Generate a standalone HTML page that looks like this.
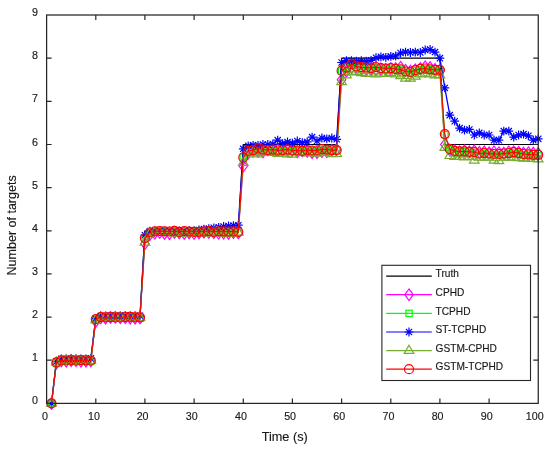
<!DOCTYPE html>
<html><head><meta charset="utf-8"><title>Number of targets</title>
<style>
html,body{margin:0;padding:0;background:#fff;}
svg{display:block;}
text{font-family:"Liberation Sans",sans-serif;fill:#1a1a1a;stroke:#1a1a1a;stroke-width:0.15px;}
.tk{font-size:10.7px;}
.lb{font-size:12.5px;}
.lg{font-size:10.15px;}
</style></head><body>
<svg width="550" height="450" viewBox="0 0 550 450">
<rect x="0" y="0" width="550" height="450" fill="#ffffff"/>
<g>
<polyline points="51.5,403.4 56.4,360.2 61.3,360.2 66.3,360.2 71.2,360.2 76.1,360.2 81.0,360.2 85.9,360.2 90.8,360.2 95.8,317.1 100.7,317.1 105.6,317.1 110.5,317.1 115.4,317.1 120.3,317.1 125.3,317.1 130.2,317.1 135.1,317.1 140.0,317.1 144.9,230.8 149.8,230.8 154.8,230.8 159.7,230.8 164.6,230.8 169.5,230.8 174.4,230.8 179.3,230.8 184.3,230.8 189.2,230.8 194.1,230.8 199.0,230.8 203.9,230.8 208.8,230.8 213.8,230.8 218.7,230.8 223.6,230.8 228.5,230.8 233.4,230.8 238.3,230.8 243.3,144.5 248.2,144.5 253.1,144.5 258.0,144.5 262.9,144.5 267.8,144.5 272.8,144.5 277.7,144.5 282.6,144.5 287.5,144.5 292.4,144.5 297.3,144.5 302.3,144.5 307.2,144.5 312.1,144.5 317.0,144.5 321.9,144.5 326.8,144.5 331.8,144.5 336.7,144.5 341.6,58.2 346.5,58.2 351.4,58.2 356.3,58.2 361.3,58.2 366.2,58.2 371.1,58.2 376.0,58.2 380.9,58.2 385.8,58.2 390.8,58.2 395.7,58.2 400.6,58.2 405.5,58.2 410.4,58.2 415.3,58.2 420.3,58.2 425.2,58.2 430.1,58.2 435.0,58.2 439.9,58.2 444.8,144.5 449.8,144.5 454.7,144.5 459.6,144.5 464.5,144.5 469.4,144.5 474.3,144.5 479.3,144.5 484.2,144.5 489.1,144.5 494.0,144.5 498.9,144.5 503.8,144.5 508.8,144.5 513.7,144.5 518.6,144.5 523.5,144.5 528.4,144.5 533.3,144.5 538.2,144.5" fill="none" stroke="#000000" stroke-width="1.2" stroke-linejoin="round"/>
<polyline points="51.5,403.4 56.4,363.3 61.3,361.0 66.3,361.3 71.2,360.6 76.1,360.8 81.0,361.2 85.9,361.1 90.8,361.0 95.8,321.4 100.7,317.9 105.6,318.1 110.5,317.4 115.4,317.3 120.3,317.8 125.3,317.8 130.2,318.1 135.1,318.1 140.0,317.9 144.9,243.7 149.8,234.7 154.8,233.2 159.7,232.5 164.6,233.4 169.5,233.6 174.4,232.4 179.3,232.9 184.3,233.4 189.2,232.9 194.1,233.5 199.0,232.9 203.9,232.3 208.8,232.5 213.8,232.7 218.7,233.2 223.6,233.1 228.5,233.4 233.4,232.6 238.3,232.9 243.3,166.0 248.2,153.1 253.1,150.0 258.0,151.5 262.9,151.9 267.8,149.9 272.8,149.3 277.7,149.7 282.6,149.9 287.5,149.8 292.4,150.1 297.3,151.9 302.3,150.9 307.2,151.4 312.1,152.6 317.0,152.6 321.9,151.7 326.8,151.8 331.8,150.3 336.7,149.4 341.6,79.7 346.5,71.1 351.4,67.6 356.3,67.2 361.3,68.5 366.2,69.4 371.1,68.9 376.0,69.4 380.9,68.9 385.8,69.4 390.8,68.5 395.7,68.5 400.6,67.2 405.5,70.2 410.4,71.1 415.3,69.8 420.3,68.5 425.2,66.8 430.1,67.6 435.0,69.4 439.9,70.2 444.8,144.5 449.8,150.1 454.7,150.9 459.6,151.8 464.5,150.9 469.4,151.8 474.3,150.9 479.3,152.2 484.2,151.8 489.1,152.7 494.0,151.8 498.9,152.7 503.8,153.1 508.8,151.8 513.7,151.8 518.6,152.2 523.5,153.1 528.4,152.7 533.3,153.1 538.2,153.5" fill="none" stroke="#ff00ff" stroke-width="1.05" stroke-linejoin="round"/>
<path d="M51.5 397.6L55.8 403.4L51.5 409.2L47.3 403.4Z" fill="none" stroke="#ff00ff" stroke-width="1.2"/>
<path d="M56.4 357.5L60.7 363.3L56.4 369.1L52.2 363.3Z" fill="none" stroke="#ff00ff" stroke-width="1.2"/>
<path d="M61.3 355.2L65.6 361.0L61.3 366.8L57.1 361.0Z" fill="none" stroke="#ff00ff" stroke-width="1.2"/>
<path d="M66.3 355.5L70.5 361.3L66.3 367.1L62.0 361.3Z" fill="none" stroke="#ff00ff" stroke-width="1.2"/>
<path d="M71.2 354.8L75.4 360.6L71.2 366.4L66.9 360.6Z" fill="none" stroke="#ff00ff" stroke-width="1.2"/>
<path d="M76.1 355.0L80.3 360.8L76.1 366.6L71.8 360.8Z" fill="none" stroke="#ff00ff" stroke-width="1.2"/>
<path d="M81.0 355.4L85.3 361.2L81.0 367.0L76.8 361.2Z" fill="none" stroke="#ff00ff" stroke-width="1.2"/>
<path d="M85.9 355.3L90.2 361.1L85.9 366.9L81.7 361.1Z" fill="none" stroke="#ff00ff" stroke-width="1.2"/>
<path d="M90.8 355.2L95.1 361.0L90.8 366.8L86.6 361.0Z" fill="none" stroke="#ff00ff" stroke-width="1.2"/>
<path d="M95.8 315.6L100.0 321.4L95.8 327.2L91.5 321.4Z" fill="none" stroke="#ff00ff" stroke-width="1.2"/>
<path d="M100.7 312.1L104.9 317.9L100.7 323.7L96.4 317.9Z" fill="none" stroke="#ff00ff" stroke-width="1.2"/>
<path d="M105.6 312.3L109.8 318.1L105.6 323.9L101.3 318.1Z" fill="none" stroke="#ff00ff" stroke-width="1.2"/>
<path d="M110.5 311.6L114.8 317.4L110.5 323.2L106.3 317.4Z" fill="none" stroke="#ff00ff" stroke-width="1.2"/>
<path d="M115.4 311.5L119.7 317.3L115.4 323.1L111.2 317.3Z" fill="none" stroke="#ff00ff" stroke-width="1.2"/>
<path d="M120.3 312.0L124.6 317.8L120.3 323.6L116.1 317.8Z" fill="none" stroke="#ff00ff" stroke-width="1.2"/>
<path d="M125.3 312.0L129.5 317.8L125.3 323.6L121.0 317.8Z" fill="none" stroke="#ff00ff" stroke-width="1.2"/>
<path d="M130.2 312.3L134.4 318.1L130.2 323.9L125.9 318.1Z" fill="none" stroke="#ff00ff" stroke-width="1.2"/>
<path d="M135.1 312.3L139.3 318.1L135.1 323.9L130.8 318.1Z" fill="none" stroke="#ff00ff" stroke-width="1.2"/>
<path d="M140.0 312.1L144.3 317.9L140.0 323.7L135.8 317.9Z" fill="none" stroke="#ff00ff" stroke-width="1.2"/>
<path d="M144.9 237.9L149.2 243.7L144.9 249.5L140.7 243.7Z" fill="none" stroke="#ff00ff" stroke-width="1.2"/>
<path d="M149.8 228.9L154.1 234.7L149.8 240.5L145.6 234.7Z" fill="none" stroke="#ff00ff" stroke-width="1.2"/>
<path d="M154.8 227.4L159.0 233.2L154.8 239.0L150.5 233.2Z" fill="none" stroke="#ff00ff" stroke-width="1.2"/>
<path d="M159.7 226.7L163.9 232.5L159.7 238.3L155.4 232.5Z" fill="none" stroke="#ff00ff" stroke-width="1.2"/>
<path d="M164.6 227.6L168.8 233.4L164.6 239.2L160.3 233.4Z" fill="none" stroke="#ff00ff" stroke-width="1.2"/>
<path d="M169.5 227.8L173.8 233.6L169.5 239.4L165.3 233.6Z" fill="none" stroke="#ff00ff" stroke-width="1.2"/>
<path d="M174.4 226.6L178.7 232.4L174.4 238.2L170.2 232.4Z" fill="none" stroke="#ff00ff" stroke-width="1.2"/>
<path d="M179.3 227.1L183.6 232.9L179.3 238.7L175.1 232.9Z" fill="none" stroke="#ff00ff" stroke-width="1.2"/>
<path d="M184.3 227.6L188.5 233.4L184.3 239.2L180.0 233.4Z" fill="none" stroke="#ff00ff" stroke-width="1.2"/>
<path d="M189.2 227.1L193.4 232.9L189.2 238.7L184.9 232.9Z" fill="none" stroke="#ff00ff" stroke-width="1.2"/>
<path d="M194.1 227.7L198.3 233.5L194.1 239.3L189.8 233.5Z" fill="none" stroke="#ff00ff" stroke-width="1.2"/>
<path d="M199.0 227.1L203.3 232.9L199.0 238.7L194.8 232.9Z" fill="none" stroke="#ff00ff" stroke-width="1.2"/>
<path d="M203.9 226.5L208.2 232.3L203.9 238.1L199.7 232.3Z" fill="none" stroke="#ff00ff" stroke-width="1.2"/>
<path d="M208.8 226.7L213.1 232.5L208.8 238.3L204.6 232.5Z" fill="none" stroke="#ff00ff" stroke-width="1.2"/>
<path d="M213.8 226.9L218.0 232.7L213.8 238.5L209.5 232.7Z" fill="none" stroke="#ff00ff" stroke-width="1.2"/>
<path d="M218.7 227.4L222.9 233.2L218.7 239.0L214.4 233.2Z" fill="none" stroke="#ff00ff" stroke-width="1.2"/>
<path d="M223.6 227.3L227.8 233.1L223.6 238.9L219.3 233.1Z" fill="none" stroke="#ff00ff" stroke-width="1.2"/>
<path d="M228.5 227.6L232.8 233.4L228.5 239.2L224.3 233.4Z" fill="none" stroke="#ff00ff" stroke-width="1.2"/>
<path d="M233.4 226.8L237.7 232.6L233.4 238.4L229.2 232.6Z" fill="none" stroke="#ff00ff" stroke-width="1.2"/>
<path d="M238.3 227.1L242.6 232.9L238.3 238.7L234.1 232.9Z" fill="none" stroke="#ff00ff" stroke-width="1.2"/>
<path d="M243.3 160.2L247.5 166.0L243.3 171.8L239.0 166.0Z" fill="none" stroke="#ff00ff" stroke-width="1.2"/>
<path d="M248.2 147.3L252.4 153.1L248.2 158.9L243.9 153.1Z" fill="none" stroke="#ff00ff" stroke-width="1.2"/>
<path d="M253.1 144.2L257.3 150.0L253.1 155.8L248.8 150.0Z" fill="none" stroke="#ff00ff" stroke-width="1.2"/>
<path d="M258.0 145.7L262.3 151.5L258.0 157.3L253.8 151.5Z" fill="none" stroke="#ff00ff" stroke-width="1.2"/>
<path d="M262.9 146.1L267.2 151.9L262.9 157.7L258.7 151.9Z" fill="none" stroke="#ff00ff" stroke-width="1.2"/>
<path d="M267.8 144.1L272.1 149.9L267.8 155.7L263.6 149.9Z" fill="none" stroke="#ff00ff" stroke-width="1.2"/>
<path d="M272.8 143.5L277.0 149.3L272.8 155.1L268.5 149.3Z" fill="none" stroke="#ff00ff" stroke-width="1.2"/>
<path d="M277.7 143.9L281.9 149.7L277.7 155.5L273.4 149.7Z" fill="none" stroke="#ff00ff" stroke-width="1.2"/>
<path d="M282.6 144.1L286.8 149.9L282.6 155.7L278.3 149.9Z" fill="none" stroke="#ff00ff" stroke-width="1.2"/>
<path d="M287.5 144.0L291.8 149.8L287.5 155.6L283.3 149.8Z" fill="none" stroke="#ff00ff" stroke-width="1.2"/>
<path d="M292.4 144.3L296.7 150.1L292.4 155.9L288.2 150.1Z" fill="none" stroke="#ff00ff" stroke-width="1.2"/>
<path d="M297.3 146.1L301.6 151.9L297.3 157.7L293.1 151.9Z" fill="none" stroke="#ff00ff" stroke-width="1.2"/>
<path d="M302.3 145.1L306.5 150.9L302.3 156.7L298.0 150.9Z" fill="none" stroke="#ff00ff" stroke-width="1.2"/>
<path d="M307.2 145.6L311.4 151.4L307.2 157.2L302.9 151.4Z" fill="none" stroke="#ff00ff" stroke-width="1.2"/>
<path d="M312.1 146.8L316.3 152.6L312.1 158.4L307.8 152.6Z" fill="none" stroke="#ff00ff" stroke-width="1.2"/>
<path d="M317.0 146.8L321.3 152.6L317.0 158.4L312.8 152.6Z" fill="none" stroke="#ff00ff" stroke-width="1.2"/>
<path d="M321.9 145.9L326.2 151.7L321.9 157.5L317.7 151.7Z" fill="none" stroke="#ff00ff" stroke-width="1.2"/>
<path d="M326.8 146.0L331.1 151.8L326.8 157.6L322.6 151.8Z" fill="none" stroke="#ff00ff" stroke-width="1.2"/>
<path d="M331.8 144.5L336.0 150.3L331.8 156.1L327.5 150.3Z" fill="none" stroke="#ff00ff" stroke-width="1.2"/>
<path d="M336.7 143.6L340.9 149.4L336.7 155.2L332.4 149.4Z" fill="none" stroke="#ff00ff" stroke-width="1.2"/>
<path d="M341.6 73.9L345.8 79.7L341.6 85.5L337.3 79.7Z" fill="none" stroke="#ff00ff" stroke-width="1.2"/>
<path d="M346.5 65.3L350.8 71.1L346.5 76.9L342.3 71.1Z" fill="none" stroke="#ff00ff" stroke-width="1.2"/>
<path d="M351.4 61.8L355.7 67.6L351.4 73.4L347.2 67.6Z" fill="none" stroke="#ff00ff" stroke-width="1.2"/>
<path d="M356.3 61.4L360.6 67.2L356.3 73.0L352.1 67.2Z" fill="none" stroke="#ff00ff" stroke-width="1.2"/>
<path d="M361.3 62.7L365.5 68.5L361.3 74.3L357.0 68.5Z" fill="none" stroke="#ff00ff" stroke-width="1.2"/>
<path d="M366.2 63.6L370.4 69.4L366.2 75.2L361.9 69.4Z" fill="none" stroke="#ff00ff" stroke-width="1.2"/>
<path d="M371.1 63.1L375.3 68.9L371.1 74.7L366.8 68.9Z" fill="none" stroke="#ff00ff" stroke-width="1.2"/>
<path d="M376.0 63.6L380.3 69.4L376.0 75.2L371.8 69.4Z" fill="none" stroke="#ff00ff" stroke-width="1.2"/>
<path d="M380.9 63.1L385.2 68.9L380.9 74.7L376.7 68.9Z" fill="none" stroke="#ff00ff" stroke-width="1.2"/>
<path d="M385.8 63.6L390.1 69.4L385.8 75.2L381.6 69.4Z" fill="none" stroke="#ff00ff" stroke-width="1.2"/>
<path d="M390.8 62.7L395.0 68.5L390.8 74.3L386.5 68.5Z" fill="none" stroke="#ff00ff" stroke-width="1.2"/>
<path d="M395.7 62.7L399.9 68.5L395.7 74.3L391.4 68.5Z" fill="none" stroke="#ff00ff" stroke-width="1.2"/>
<path d="M400.6 61.4L404.8 67.2L400.6 73.0L396.3 67.2Z" fill="none" stroke="#ff00ff" stroke-width="1.2"/>
<path d="M405.5 64.4L409.8 70.2L405.5 76.0L401.3 70.2Z" fill="none" stroke="#ff00ff" stroke-width="1.2"/>
<path d="M410.4 65.3L414.7 71.1L410.4 76.9L406.2 71.1Z" fill="none" stroke="#ff00ff" stroke-width="1.2"/>
<path d="M415.3 64.0L419.6 69.8L415.3 75.6L411.1 69.8Z" fill="none" stroke="#ff00ff" stroke-width="1.2"/>
<path d="M420.3 62.7L424.5 68.5L420.3 74.3L416.0 68.5Z" fill="none" stroke="#ff00ff" stroke-width="1.2"/>
<path d="M425.2 61.0L429.4 66.8L425.2 72.6L420.9 66.8Z" fill="none" stroke="#ff00ff" stroke-width="1.2"/>
<path d="M430.1 61.8L434.3 67.6L430.1 73.4L425.8 67.6Z" fill="none" stroke="#ff00ff" stroke-width="1.2"/>
<path d="M435.0 63.6L439.3 69.4L435.0 75.2L430.8 69.4Z" fill="none" stroke="#ff00ff" stroke-width="1.2"/>
<path d="M439.9 64.4L444.2 70.2L439.9 76.0L435.7 70.2Z" fill="none" stroke="#ff00ff" stroke-width="1.2"/>
<path d="M444.8 138.7L449.1 144.5L444.8 150.3L440.6 144.5Z" fill="none" stroke="#ff00ff" stroke-width="1.2"/>
<path d="M449.8 144.3L454.0 150.1L449.8 155.9L445.5 150.1Z" fill="none" stroke="#ff00ff" stroke-width="1.2"/>
<path d="M454.7 145.1L458.9 150.9L454.7 156.7L450.4 150.9Z" fill="none" stroke="#ff00ff" stroke-width="1.2"/>
<path d="M459.6 146.0L463.8 151.8L459.6 157.6L455.3 151.8Z" fill="none" stroke="#ff00ff" stroke-width="1.2"/>
<path d="M464.5 145.1L468.8 150.9L464.5 156.7L460.3 150.9Z" fill="none" stroke="#ff00ff" stroke-width="1.2"/>
<path d="M469.4 146.0L473.7 151.8L469.4 157.6L465.2 151.8Z" fill="none" stroke="#ff00ff" stroke-width="1.2"/>
<path d="M474.3 145.1L478.6 150.9L474.3 156.7L470.1 150.9Z" fill="none" stroke="#ff00ff" stroke-width="1.2"/>
<path d="M479.3 146.4L483.5 152.2L479.3 158.0L475.0 152.2Z" fill="none" stroke="#ff00ff" stroke-width="1.2"/>
<path d="M484.2 146.0L488.4 151.8L484.2 157.6L479.9 151.8Z" fill="none" stroke="#ff00ff" stroke-width="1.2"/>
<path d="M489.1 146.9L493.3 152.7L489.1 158.5L484.8 152.7Z" fill="none" stroke="#ff00ff" stroke-width="1.2"/>
<path d="M494.0 146.0L498.3 151.8L494.0 157.6L489.8 151.8Z" fill="none" stroke="#ff00ff" stroke-width="1.2"/>
<path d="M498.9 146.9L503.2 152.7L498.9 158.5L494.7 152.7Z" fill="none" stroke="#ff00ff" stroke-width="1.2"/>
<path d="M503.8 147.3L508.1 153.1L503.8 158.9L499.6 153.1Z" fill="none" stroke="#ff00ff" stroke-width="1.2"/>
<path d="M508.8 146.0L513.0 151.8L508.8 157.6L504.5 151.8Z" fill="none" stroke="#ff00ff" stroke-width="1.2"/>
<path d="M513.7 146.0L517.9 151.8L513.7 157.6L509.4 151.8Z" fill="none" stroke="#ff00ff" stroke-width="1.2"/>
<path d="M518.6 146.4L522.8 152.2L518.6 158.0L514.3 152.2Z" fill="none" stroke="#ff00ff" stroke-width="1.2"/>
<path d="M523.5 147.3L527.8 153.1L523.5 158.9L519.3 153.1Z" fill="none" stroke="#ff00ff" stroke-width="1.2"/>
<path d="M528.4 146.9L532.7 152.7L528.4 158.5L524.2 152.7Z" fill="none" stroke="#ff00ff" stroke-width="1.2"/>
<path d="M533.3 147.3L537.6 153.1L533.3 158.9L529.1 153.1Z" fill="none" stroke="#ff00ff" stroke-width="1.2"/>
<path d="M538.2 147.7L542.5 153.5L538.2 159.3L534.0 153.5Z" fill="none" stroke="#ff00ff" stroke-width="1.2"/>
<polyline points="51.5,403.4 56.4,363.4 61.3,361.3 66.3,361.0 71.2,360.9 76.1,361.3 81.0,360.8 85.9,361.0 90.8,361.4 95.8,319.6 100.7,317.6 105.6,318.3 110.5,317.7 115.4,318.0 120.3,317.7 125.3,317.6 130.2,317.7 135.1,317.6 140.0,318.3 144.9,238.8 149.8,232.9 154.8,232.2 159.7,231.6 164.6,232.4 169.5,232.0 174.4,231.4 179.3,232.5 184.3,231.4 189.2,232.5 194.1,232.3 199.0,232.4 203.9,232.2 208.8,231.8 213.8,232.1 218.7,231.6 223.6,232.0 228.5,232.1 233.4,232.4 238.3,232.4 243.3,157.9 248.2,151.2 253.1,150.4 258.0,149.2 262.9,150.4 267.8,150.6 272.8,150.7 277.7,151.2 282.6,151.0 287.5,150.6 292.4,151.5 297.3,150.9 302.3,151.9 307.2,150.9 312.1,151.2 317.0,150.8 321.9,150.2 326.8,150.3 331.8,150.7 336.7,150.4 341.6,71.0 346.5,68.0 351.4,65.0 356.3,67.1 361.3,68.0 366.2,68.0 371.1,68.3 376.0,68.2 380.9,69.0 385.8,69.4 390.8,69.0 395.7,69.6 400.6,69.9 405.5,72.4 410.4,73.0 415.3,71.0 420.3,69.7 425.2,69.1 430.1,69.6 435.0,70.3 439.9,70.4 444.8,134.7 449.8,149.7 454.7,152.0 459.6,151.7 464.5,151.8 469.4,152.1 474.3,152.6 479.3,154.3 484.2,153.8 489.1,154.5 494.0,154.5 498.9,155.0 503.8,154.6 508.8,154.0 513.7,153.2 518.6,153.9 523.5,155.0 528.4,155.5 533.3,155.8 538.2,155.8" fill="none" stroke="#00ff00" stroke-width="1.05" stroke-linejoin="round"/>
<rect x="48.4" y="400.2" width="6.3" height="6.3" fill="none" stroke="#00ff00" stroke-width="1.2"/>
<rect x="53.3" y="360.3" width="6.3" height="6.3" fill="none" stroke="#00ff00" stroke-width="1.2"/>
<rect x="58.2" y="358.1" width="6.3" height="6.3" fill="none" stroke="#00ff00" stroke-width="1.2"/>
<rect x="63.1" y="357.8" width="6.3" height="6.3" fill="none" stroke="#00ff00" stroke-width="1.2"/>
<rect x="68.0" y="357.7" width="6.3" height="6.3" fill="none" stroke="#00ff00" stroke-width="1.2"/>
<rect x="72.9" y="358.2" width="6.3" height="6.3" fill="none" stroke="#00ff00" stroke-width="1.2"/>
<rect x="77.9" y="357.6" width="6.3" height="6.3" fill="none" stroke="#00ff00" stroke-width="1.2"/>
<rect x="82.8" y="357.9" width="6.3" height="6.3" fill="none" stroke="#00ff00" stroke-width="1.2"/>
<rect x="87.7" y="358.2" width="6.3" height="6.3" fill="none" stroke="#00ff00" stroke-width="1.2"/>
<rect x="92.6" y="316.5" width="6.3" height="6.3" fill="none" stroke="#00ff00" stroke-width="1.2"/>
<rect x="97.5" y="314.4" width="6.3" height="6.3" fill="none" stroke="#00ff00" stroke-width="1.2"/>
<rect x="102.4" y="315.1" width="6.3" height="6.3" fill="none" stroke="#00ff00" stroke-width="1.2"/>
<rect x="107.4" y="314.6" width="6.3" height="6.3" fill="none" stroke="#00ff00" stroke-width="1.2"/>
<rect x="112.3" y="314.9" width="6.3" height="6.3" fill="none" stroke="#00ff00" stroke-width="1.2"/>
<rect x="117.2" y="314.5" width="6.3" height="6.3" fill="none" stroke="#00ff00" stroke-width="1.2"/>
<rect x="122.1" y="314.4" width="6.3" height="6.3" fill="none" stroke="#00ff00" stroke-width="1.2"/>
<rect x="127.0" y="314.5" width="6.3" height="6.3" fill="none" stroke="#00ff00" stroke-width="1.2"/>
<rect x="131.9" y="314.4" width="6.3" height="6.3" fill="none" stroke="#00ff00" stroke-width="1.2"/>
<rect x="136.9" y="315.1" width="6.3" height="6.3" fill="none" stroke="#00ff00" stroke-width="1.2"/>
<rect x="141.8" y="235.7" width="6.3" height="6.3" fill="none" stroke="#00ff00" stroke-width="1.2"/>
<rect x="146.7" y="229.8" width="6.3" height="6.3" fill="none" stroke="#00ff00" stroke-width="1.2"/>
<rect x="151.6" y="229.1" width="6.3" height="6.3" fill="none" stroke="#00ff00" stroke-width="1.2"/>
<rect x="156.5" y="228.5" width="6.3" height="6.3" fill="none" stroke="#00ff00" stroke-width="1.2"/>
<rect x="161.4" y="229.2" width="6.3" height="6.3" fill="none" stroke="#00ff00" stroke-width="1.2"/>
<rect x="166.4" y="228.9" width="6.3" height="6.3" fill="none" stroke="#00ff00" stroke-width="1.2"/>
<rect x="171.3" y="228.2" width="6.3" height="6.3" fill="none" stroke="#00ff00" stroke-width="1.2"/>
<rect x="176.2" y="229.3" width="6.3" height="6.3" fill="none" stroke="#00ff00" stroke-width="1.2"/>
<rect x="181.1" y="228.2" width="6.3" height="6.3" fill="none" stroke="#00ff00" stroke-width="1.2"/>
<rect x="186.0" y="229.3" width="6.3" height="6.3" fill="none" stroke="#00ff00" stroke-width="1.2"/>
<rect x="190.9" y="229.1" width="6.3" height="6.3" fill="none" stroke="#00ff00" stroke-width="1.2"/>
<rect x="195.9" y="229.2" width="6.3" height="6.3" fill="none" stroke="#00ff00" stroke-width="1.2"/>
<rect x="200.8" y="229.1" width="6.3" height="6.3" fill="none" stroke="#00ff00" stroke-width="1.2"/>
<rect x="205.7" y="228.6" width="6.3" height="6.3" fill="none" stroke="#00ff00" stroke-width="1.2"/>
<rect x="210.6" y="229.0" width="6.3" height="6.3" fill="none" stroke="#00ff00" stroke-width="1.2"/>
<rect x="215.5" y="228.5" width="6.3" height="6.3" fill="none" stroke="#00ff00" stroke-width="1.2"/>
<rect x="220.4" y="228.8" width="6.3" height="6.3" fill="none" stroke="#00ff00" stroke-width="1.2"/>
<rect x="225.4" y="228.9" width="6.3" height="6.3" fill="none" stroke="#00ff00" stroke-width="1.2"/>
<rect x="230.3" y="229.3" width="6.3" height="6.3" fill="none" stroke="#00ff00" stroke-width="1.2"/>
<rect x="235.2" y="229.2" width="6.3" height="6.3" fill="none" stroke="#00ff00" stroke-width="1.2"/>
<rect x="240.1" y="154.8" width="6.3" height="6.3" fill="none" stroke="#00ff00" stroke-width="1.2"/>
<rect x="245.0" y="148.0" width="6.3" height="6.3" fill="none" stroke="#00ff00" stroke-width="1.2"/>
<rect x="249.9" y="147.3" width="6.3" height="6.3" fill="none" stroke="#00ff00" stroke-width="1.2"/>
<rect x="254.9" y="146.0" width="6.3" height="6.3" fill="none" stroke="#00ff00" stroke-width="1.2"/>
<rect x="259.8" y="147.2" width="6.3" height="6.3" fill="none" stroke="#00ff00" stroke-width="1.2"/>
<rect x="264.7" y="147.4" width="6.3" height="6.3" fill="none" stroke="#00ff00" stroke-width="1.2"/>
<rect x="269.6" y="147.6" width="6.3" height="6.3" fill="none" stroke="#00ff00" stroke-width="1.2"/>
<rect x="274.5" y="148.0" width="6.3" height="6.3" fill="none" stroke="#00ff00" stroke-width="1.2"/>
<rect x="279.4" y="147.9" width="6.3" height="6.3" fill="none" stroke="#00ff00" stroke-width="1.2"/>
<rect x="284.4" y="147.5" width="6.3" height="6.3" fill="none" stroke="#00ff00" stroke-width="1.2"/>
<rect x="289.3" y="148.4" width="6.3" height="6.3" fill="none" stroke="#00ff00" stroke-width="1.2"/>
<rect x="294.2" y="147.8" width="6.3" height="6.3" fill="none" stroke="#00ff00" stroke-width="1.2"/>
<rect x="299.1" y="148.8" width="6.3" height="6.3" fill="none" stroke="#00ff00" stroke-width="1.2"/>
<rect x="304.0" y="147.8" width="6.3" height="6.3" fill="none" stroke="#00ff00" stroke-width="1.2"/>
<rect x="308.9" y="148.1" width="6.3" height="6.3" fill="none" stroke="#00ff00" stroke-width="1.2"/>
<rect x="313.9" y="147.7" width="6.3" height="6.3" fill="none" stroke="#00ff00" stroke-width="1.2"/>
<rect x="318.8" y="147.1" width="6.3" height="6.3" fill="none" stroke="#00ff00" stroke-width="1.2"/>
<rect x="323.7" y="147.2" width="6.3" height="6.3" fill="none" stroke="#00ff00" stroke-width="1.2"/>
<rect x="328.6" y="147.5" width="6.3" height="6.3" fill="none" stroke="#00ff00" stroke-width="1.2"/>
<rect x="333.5" y="147.2" width="6.3" height="6.3" fill="none" stroke="#00ff00" stroke-width="1.2"/>
<rect x="338.4" y="67.9" width="6.3" height="6.3" fill="none" stroke="#00ff00" stroke-width="1.2"/>
<rect x="343.4" y="64.8" width="6.3" height="6.3" fill="none" stroke="#00ff00" stroke-width="1.2"/>
<rect x="348.3" y="61.9" width="6.3" height="6.3" fill="none" stroke="#00ff00" stroke-width="1.2"/>
<rect x="353.2" y="63.9" width="6.3" height="6.3" fill="none" stroke="#00ff00" stroke-width="1.2"/>
<rect x="358.1" y="64.8" width="6.3" height="6.3" fill="none" stroke="#00ff00" stroke-width="1.2"/>
<rect x="363.0" y="64.8" width="6.3" height="6.3" fill="none" stroke="#00ff00" stroke-width="1.2"/>
<rect x="367.9" y="65.2" width="6.3" height="6.3" fill="none" stroke="#00ff00" stroke-width="1.2"/>
<rect x="372.9" y="65.0" width="6.3" height="6.3" fill="none" stroke="#00ff00" stroke-width="1.2"/>
<rect x="377.8" y="65.9" width="6.3" height="6.3" fill="none" stroke="#00ff00" stroke-width="1.2"/>
<rect x="382.7" y="66.2" width="6.3" height="6.3" fill="none" stroke="#00ff00" stroke-width="1.2"/>
<rect x="387.6" y="65.8" width="6.3" height="6.3" fill="none" stroke="#00ff00" stroke-width="1.2"/>
<rect x="392.5" y="66.5" width="6.3" height="6.3" fill="none" stroke="#00ff00" stroke-width="1.2"/>
<rect x="397.4" y="66.8" width="6.3" height="6.3" fill="none" stroke="#00ff00" stroke-width="1.2"/>
<rect x="402.4" y="69.2" width="6.3" height="6.3" fill="none" stroke="#00ff00" stroke-width="1.2"/>
<rect x="407.3" y="69.9" width="6.3" height="6.3" fill="none" stroke="#00ff00" stroke-width="1.2"/>
<rect x="412.2" y="67.8" width="6.3" height="6.3" fill="none" stroke="#00ff00" stroke-width="1.2"/>
<rect x="417.1" y="66.6" width="6.3" height="6.3" fill="none" stroke="#00ff00" stroke-width="1.2"/>
<rect x="422.0" y="66.0" width="6.3" height="6.3" fill="none" stroke="#00ff00" stroke-width="1.2"/>
<rect x="426.9" y="66.5" width="6.3" height="6.3" fill="none" stroke="#00ff00" stroke-width="1.2"/>
<rect x="431.9" y="67.1" width="6.3" height="6.3" fill="none" stroke="#00ff00" stroke-width="1.2"/>
<rect x="436.8" y="67.3" width="6.3" height="6.3" fill="none" stroke="#00ff00" stroke-width="1.2"/>
<rect x="441.7" y="131.5" width="6.3" height="6.3" fill="none" stroke="#00ff00" stroke-width="1.2"/>
<rect x="446.6" y="146.6" width="6.3" height="6.3" fill="none" stroke="#00ff00" stroke-width="1.2"/>
<rect x="451.5" y="148.8" width="6.3" height="6.3" fill="none" stroke="#00ff00" stroke-width="1.2"/>
<rect x="456.4" y="148.5" width="6.3" height="6.3" fill="none" stroke="#00ff00" stroke-width="1.2"/>
<rect x="461.4" y="148.6" width="6.3" height="6.3" fill="none" stroke="#00ff00" stroke-width="1.2"/>
<rect x="466.3" y="149.0" width="6.3" height="6.3" fill="none" stroke="#00ff00" stroke-width="1.2"/>
<rect x="471.2" y="149.5" width="6.3" height="6.3" fill="none" stroke="#00ff00" stroke-width="1.2"/>
<rect x="476.1" y="151.1" width="6.3" height="6.3" fill="none" stroke="#00ff00" stroke-width="1.2"/>
<rect x="481.0" y="150.7" width="6.3" height="6.3" fill="none" stroke="#00ff00" stroke-width="1.2"/>
<rect x="485.9" y="151.4" width="6.3" height="6.3" fill="none" stroke="#00ff00" stroke-width="1.2"/>
<rect x="490.9" y="151.3" width="6.3" height="6.3" fill="none" stroke="#00ff00" stroke-width="1.2"/>
<rect x="495.8" y="151.8" width="6.3" height="6.3" fill="none" stroke="#00ff00" stroke-width="1.2"/>
<rect x="500.7" y="151.4" width="6.3" height="6.3" fill="none" stroke="#00ff00" stroke-width="1.2"/>
<rect x="505.6" y="150.8" width="6.3" height="6.3" fill="none" stroke="#00ff00" stroke-width="1.2"/>
<rect x="510.5" y="150.0" width="6.3" height="6.3" fill="none" stroke="#00ff00" stroke-width="1.2"/>
<rect x="515.4" y="150.7" width="6.3" height="6.3" fill="none" stroke="#00ff00" stroke-width="1.2"/>
<rect x="520.4" y="151.8" width="6.3" height="6.3" fill="none" stroke="#00ff00" stroke-width="1.2"/>
<rect x="525.3" y="152.3" width="6.3" height="6.3" fill="none" stroke="#00ff00" stroke-width="1.2"/>
<rect x="530.2" y="152.6" width="6.3" height="6.3" fill="none" stroke="#00ff00" stroke-width="1.2"/>
<rect x="535.1" y="152.7" width="6.3" height="6.3" fill="none" stroke="#00ff00" stroke-width="1.2"/>
<polyline points="51.5,403.4 56.4,361.5 61.3,358.9 66.3,359.0 71.2,358.7 76.1,358.9 81.0,358.8 85.9,359.1 90.8,358.4 95.8,318.4 100.7,315.9 105.6,315.8 110.5,315.7 115.4,315.4 120.3,315.9 125.3,315.4 130.2,315.8 135.1,315.8 140.0,315.8 144.9,235.1 149.8,231.2 154.8,231.2 159.7,230.8 164.6,231.1 169.5,231.2 174.4,230.5 179.3,231.1 184.3,230.8 189.2,230.6 194.1,230.7 199.0,229.9 203.9,229.1 208.8,228.6 213.8,227.8 218.7,227.3 223.6,226.5 228.5,226.0 233.4,225.6 238.3,225.2 243.3,148.8 248.2,145.8 253.1,145.3 258.0,145.3 262.9,144.5 267.8,144.5 272.8,144.0 277.7,140.2 282.6,143.6 287.5,141.9 292.4,143.2 297.3,141.0 302.3,142.7 307.2,141.9 312.1,137.1 317.0,141.0 321.9,138.0 326.8,138.9 331.8,138.0 336.7,139.3 341.6,62.5 346.5,60.7 351.4,60.7 356.3,61.2 361.3,60.7 366.2,61.2 371.1,60.3 376.0,57.7 380.9,56.9 385.8,57.3 390.8,56.4 395.7,56.0 400.6,53.0 405.5,52.1 410.4,52.5 415.3,52.1 420.3,52.5 425.2,50.0 430.1,49.5 435.0,52.1 439.9,58.2 444.8,87.9 449.8,115.1 454.7,121.2 459.6,128.1 464.5,130.2 469.4,129.4 474.3,135.0 479.3,132.8 484.2,135.0 489.1,135.0 494.0,140.2 498.9,140.2 503.8,131.1 508.8,131.1 513.7,137.1 518.6,135.0 523.5,134.1 528.4,135.8 533.3,140.2 538.2,138.9" fill="none" stroke="#0000ff" stroke-width="1.3" stroke-linejoin="round"/>
<path d="M47.1 403.4H55.9M51.5 399.0V407.8M48.4 400.3L54.6 406.5M48.4 406.5L54.6 400.3" fill="none" stroke="#0000ff" stroke-width="1.2"/>
<path d="M52.0 361.5H60.8M56.4 357.1V365.9M53.3 358.4L59.5 364.7M53.3 364.7L59.5 358.4" fill="none" stroke="#0000ff" stroke-width="1.2"/>
<path d="M56.9 358.9H65.7M61.3 354.5V363.3M58.2 355.8L64.5 362.0M58.2 362.0L64.5 355.8" fill="none" stroke="#0000ff" stroke-width="1.2"/>
<path d="M61.9 359.0H70.7M66.3 354.6V363.4M63.2 355.8L69.4 362.1M63.2 362.1L69.4 355.8" fill="none" stroke="#0000ff" stroke-width="1.2"/>
<path d="M66.8 358.7H75.6M71.2 354.3V363.1M68.1 355.5L74.3 361.8M68.1 361.8L74.3 355.5" fill="none" stroke="#0000ff" stroke-width="1.2"/>
<path d="M71.7 358.9H80.5M76.1 354.5V363.3M73.0 355.8L79.2 362.1M73.0 362.1L79.2 355.8" fill="none" stroke="#0000ff" stroke-width="1.2"/>
<path d="M76.6 358.8H85.4M81.0 354.4V363.2M77.9 355.7L84.1 361.9M77.9 361.9L84.1 355.7" fill="none" stroke="#0000ff" stroke-width="1.2"/>
<path d="M81.5 359.1H90.3M85.9 354.7V363.5M82.8 355.9L89.0 362.2M82.8 362.2L89.0 355.9" fill="none" stroke="#0000ff" stroke-width="1.2"/>
<path d="M86.4 358.4H95.2M90.8 354.0V362.8M87.7 355.3L94.0 361.5M87.7 361.5L94.0 355.3" fill="none" stroke="#0000ff" stroke-width="1.2"/>
<path d="M91.4 318.4H100.2M95.8 314.0V322.8M92.7 315.3L98.9 321.5M92.7 321.5L98.9 315.3" fill="none" stroke="#0000ff" stroke-width="1.2"/>
<path d="M96.3 315.9H105.1M100.7 311.5V320.3M97.6 312.8L103.8 319.0M97.6 319.0L103.8 312.8" fill="none" stroke="#0000ff" stroke-width="1.2"/>
<path d="M101.2 315.8H110.0M105.6 311.4V320.2M102.5 312.7L108.7 318.9M102.5 318.9L108.7 312.7" fill="none" stroke="#0000ff" stroke-width="1.2"/>
<path d="M106.1 315.7H114.9M110.5 311.3V320.1M107.4 312.6L113.6 318.8M107.4 318.8L113.6 312.6" fill="none" stroke="#0000ff" stroke-width="1.2"/>
<path d="M111.0 315.4H119.8M115.4 311.0V319.8M112.3 312.3L118.5 318.6M112.3 318.6L118.5 312.3" fill="none" stroke="#0000ff" stroke-width="1.2"/>
<path d="M115.9 315.9H124.7M120.3 311.5V320.3M117.2 312.8L123.5 319.0M117.2 319.0L123.5 312.8" fill="none" stroke="#0000ff" stroke-width="1.2"/>
<path d="M120.9 315.4H129.7M125.3 311.0V319.8M122.2 312.3L128.4 318.5M122.2 318.5L128.4 312.3" fill="none" stroke="#0000ff" stroke-width="1.2"/>
<path d="M125.8 315.8H134.6M130.2 311.4V320.2M127.1 312.7L133.3 318.9M127.1 318.9L133.3 312.7" fill="none" stroke="#0000ff" stroke-width="1.2"/>
<path d="M130.7 315.8H139.5M135.1 311.4V320.2M132.0 312.7L138.2 318.9M132.0 318.9L138.2 312.7" fill="none" stroke="#0000ff" stroke-width="1.2"/>
<path d="M135.6 315.8H144.4M140.0 311.4V320.2M136.9 312.7L143.1 318.9M136.9 318.9L143.1 312.7" fill="none" stroke="#0000ff" stroke-width="1.2"/>
<path d="M140.5 235.1H149.3M144.9 230.7V239.5M141.8 232.0L148.0 238.2M141.8 238.2L148.0 232.0" fill="none" stroke="#0000ff" stroke-width="1.2"/>
<path d="M145.4 231.2H154.2M149.8 226.8V235.6M146.7 228.1L153.0 234.3M146.7 234.3L153.0 228.1" fill="none" stroke="#0000ff" stroke-width="1.2"/>
<path d="M150.4 231.2H159.2M154.8 226.8V235.6M151.7 228.1L157.9 234.3M151.7 234.3L157.9 228.1" fill="none" stroke="#0000ff" stroke-width="1.2"/>
<path d="M155.3 230.8H164.1M159.7 226.4V235.2M156.6 227.7L162.8 233.9M156.6 233.9L162.8 227.7" fill="none" stroke="#0000ff" stroke-width="1.2"/>
<path d="M160.2 231.1H169.0M164.6 226.7V235.5M161.5 227.9L167.7 234.2M161.5 234.2L167.7 227.9" fill="none" stroke="#0000ff" stroke-width="1.2"/>
<path d="M165.1 231.2H173.9M169.5 226.8V235.6M166.4 228.1L172.6 234.3M166.4 234.3L172.6 228.1" fill="none" stroke="#0000ff" stroke-width="1.2"/>
<path d="M170.0 230.5H178.8M174.4 226.1V234.9M171.3 227.4L177.5 233.6M171.3 233.6L177.5 227.4" fill="none" stroke="#0000ff" stroke-width="1.2"/>
<path d="M174.9 231.1H183.7M179.3 226.7V235.5M176.2 227.9L182.5 234.2M176.2 234.2L182.5 227.9" fill="none" stroke="#0000ff" stroke-width="1.2"/>
<path d="M179.9 230.8H188.7M184.3 226.4V235.2M181.2 227.7L187.4 233.9M181.2 233.9L187.4 227.7" fill="none" stroke="#0000ff" stroke-width="1.2"/>
<path d="M184.8 230.6H193.6M189.2 226.2V235.0M186.1 227.5L192.3 233.7M186.1 233.7L192.3 227.5" fill="none" stroke="#0000ff" stroke-width="1.2"/>
<path d="M189.7 230.7H198.5M194.1 226.3V235.1M191.0 227.6L197.2 233.8M191.0 233.8L197.2 227.6" fill="none" stroke="#0000ff" stroke-width="1.2"/>
<path d="M194.6 229.9H203.4M199.0 225.5V234.3M195.9 226.8L202.1 233.0M195.9 233.0L202.1 226.8" fill="none" stroke="#0000ff" stroke-width="1.2"/>
<path d="M199.5 229.1H208.3M203.9 224.7V233.5M200.8 225.9L207.0 232.2M200.8 232.2L207.0 225.9" fill="none" stroke="#0000ff" stroke-width="1.2"/>
<path d="M204.4 228.6H213.2M208.8 224.2V233.0M205.7 225.5L212.0 231.7M205.7 231.7L212.0 225.5" fill="none" stroke="#0000ff" stroke-width="1.2"/>
<path d="M209.4 227.8H218.2M213.8 223.4V232.2M210.6 224.6L216.9 230.9M210.6 230.9L216.9 224.6" fill="none" stroke="#0000ff" stroke-width="1.2"/>
<path d="M214.3 227.3H223.1M218.7 222.9V231.7M215.6 224.2L221.8 230.4M215.6 230.4L221.8 224.2" fill="none" stroke="#0000ff" stroke-width="1.2"/>
<path d="M219.2 226.5H228.0M223.6 222.1V230.9M220.5 223.4L226.7 229.6M220.5 229.6L226.7 223.4" fill="none" stroke="#0000ff" stroke-width="1.2"/>
<path d="M224.1 226.0H232.9M228.5 221.6V230.4M225.4 222.9L231.6 229.1M225.4 229.1L231.6 222.9" fill="none" stroke="#0000ff" stroke-width="1.2"/>
<path d="M229.0 225.6H237.8M233.4 221.2V230.0M230.3 222.5L236.5 228.7M230.3 228.7L236.5 222.5" fill="none" stroke="#0000ff" stroke-width="1.2"/>
<path d="M233.9 225.2H242.7M238.3 220.8V229.6M235.2 222.1L241.5 228.3M235.2 228.3L241.5 222.1" fill="none" stroke="#0000ff" stroke-width="1.2"/>
<path d="M238.9 148.8H247.7M243.3 144.4V153.2M240.1 145.7L246.4 151.9M240.1 151.9L246.4 145.7" fill="none" stroke="#0000ff" stroke-width="1.2"/>
<path d="M243.8 145.8H252.6M248.2 141.4V150.2M245.1 142.7L251.3 148.9M245.1 148.9L251.3 142.7" fill="none" stroke="#0000ff" stroke-width="1.2"/>
<path d="M248.7 145.3H257.5M253.1 140.9V149.7M250.0 142.2L256.2 148.4M250.0 148.4L256.2 142.2" fill="none" stroke="#0000ff" stroke-width="1.2"/>
<path d="M253.6 145.3H262.4M258.0 140.9V149.7M254.9 142.2L261.1 148.4M254.9 148.4L261.1 142.2" fill="none" stroke="#0000ff" stroke-width="1.2"/>
<path d="M258.5 144.5H267.3M262.9 140.1V148.9M259.8 141.4L266.0 147.6M259.8 147.6L266.0 141.4" fill="none" stroke="#0000ff" stroke-width="1.2"/>
<path d="M263.4 144.5H272.2M267.8 140.1V148.9M264.7 141.4L271.0 147.6M264.7 147.6L271.0 141.4" fill="none" stroke="#0000ff" stroke-width="1.2"/>
<path d="M268.4 144.0H277.2M272.8 139.6V148.4M269.6 140.9L275.9 147.1M269.6 147.1L275.9 140.9" fill="none" stroke="#0000ff" stroke-width="1.2"/>
<path d="M273.3 140.2H282.1M277.7 135.8V144.6M274.6 137.0L280.8 143.3M274.6 143.3L280.8 137.0" fill="none" stroke="#0000ff" stroke-width="1.2"/>
<path d="M278.2 143.6H287.0M282.6 139.2V148.0M279.5 140.5L285.7 146.7M279.5 146.7L285.7 140.5" fill="none" stroke="#0000ff" stroke-width="1.2"/>
<path d="M283.1 141.9H291.9M287.5 137.5V146.3M284.4 138.8L290.6 145.0M284.4 145.0L290.6 138.8" fill="none" stroke="#0000ff" stroke-width="1.2"/>
<path d="M288.0 143.2H296.8M292.4 138.8V147.6M289.3 140.1L295.5 146.3M289.3 146.3L295.5 140.1" fill="none" stroke="#0000ff" stroke-width="1.2"/>
<path d="M292.9 141.0H301.7M297.3 136.6V145.4M294.2 137.9L300.5 144.1M294.2 144.1L300.5 137.9" fill="none" stroke="#0000ff" stroke-width="1.2"/>
<path d="M297.9 142.7H306.7M302.3 138.3V147.1M299.1 139.6L305.4 145.9M299.1 145.9L305.4 139.6" fill="none" stroke="#0000ff" stroke-width="1.2"/>
<path d="M302.8 141.9H311.6M307.2 137.5V146.3M304.1 138.8L310.3 145.0M304.1 145.0L310.3 138.8" fill="none" stroke="#0000ff" stroke-width="1.2"/>
<path d="M307.7 137.1H316.5M312.1 132.7V141.5M309.0 134.0L315.2 140.2M309.0 140.2L315.2 134.0" fill="none" stroke="#0000ff" stroke-width="1.2"/>
<path d="M312.6 141.0H321.4M317.0 136.6V145.4M313.9 137.9L320.1 144.1M313.9 144.1L320.1 137.9" fill="none" stroke="#0000ff" stroke-width="1.2"/>
<path d="M317.5 138.0H326.3M321.9 133.6V142.4M318.8 134.9L325.0 141.1M318.8 141.1L325.0 134.9" fill="none" stroke="#0000ff" stroke-width="1.2"/>
<path d="M322.4 138.9H331.2M326.8 134.5V143.3M323.7 135.7L330.0 142.0M323.7 142.0L330.0 135.7" fill="none" stroke="#0000ff" stroke-width="1.2"/>
<path d="M327.4 138.0H336.2M331.8 133.6V142.4M328.6 134.9L334.9 141.1M328.6 141.1L334.9 134.9" fill="none" stroke="#0000ff" stroke-width="1.2"/>
<path d="M332.3 139.3H341.1M336.7 134.9V143.7M333.6 136.2L339.8 142.4M333.6 142.4L339.8 136.2" fill="none" stroke="#0000ff" stroke-width="1.2"/>
<path d="M337.2 62.5H346.0M341.6 58.1V66.9M338.5 59.4L344.7 65.6M338.5 65.6L344.7 59.4" fill="none" stroke="#0000ff" stroke-width="1.2"/>
<path d="M342.1 60.7H350.9M346.5 56.3V65.1M343.4 57.6L349.6 63.9M343.4 63.9L349.6 57.6" fill="none" stroke="#0000ff" stroke-width="1.2"/>
<path d="M347.0 60.7H355.8M351.4 56.3V65.1M348.3 57.6L354.5 63.9M348.3 63.9L354.5 57.6" fill="none" stroke="#0000ff" stroke-width="1.2"/>
<path d="M351.9 61.2H360.7M356.3 56.8V65.6M353.2 58.1L359.5 64.3M353.2 64.3L359.5 58.1" fill="none" stroke="#0000ff" stroke-width="1.2"/>
<path d="M356.9 60.7H365.7M361.3 56.3V65.1M358.1 57.6L364.4 63.9M358.1 63.9L364.4 57.6" fill="none" stroke="#0000ff" stroke-width="1.2"/>
<path d="M361.8 61.2H370.6M366.2 56.8V65.6M363.1 58.1L369.3 64.3M363.1 64.3L369.3 58.1" fill="none" stroke="#0000ff" stroke-width="1.2"/>
<path d="M366.7 60.3H375.5M371.1 55.9V64.7M368.0 57.2L374.2 63.4M368.0 63.4L374.2 57.2" fill="none" stroke="#0000ff" stroke-width="1.2"/>
<path d="M371.6 57.7H380.4M376.0 53.3V62.1M372.9 54.6L379.1 60.8M372.9 60.8L379.1 54.6" fill="none" stroke="#0000ff" stroke-width="1.2"/>
<path d="M376.5 56.9H385.3M380.9 52.5V61.3M377.8 53.7L384.0 60.0M377.8 60.0L384.0 53.7" fill="none" stroke="#0000ff" stroke-width="1.2"/>
<path d="M381.4 57.3H390.2M385.8 52.9V61.7M382.7 54.2L388.9 60.4M382.7 60.4L388.9 54.2" fill="none" stroke="#0000ff" stroke-width="1.2"/>
<path d="M386.4 56.4H395.2M390.8 52.0V60.8M387.6 53.3L393.9 59.5M387.6 59.5L393.9 53.3" fill="none" stroke="#0000ff" stroke-width="1.2"/>
<path d="M391.3 56.0H400.1M395.7 51.6V60.4M392.6 52.9L398.8 59.1M392.6 59.1L398.8 52.9" fill="none" stroke="#0000ff" stroke-width="1.2"/>
<path d="M396.2 53.0H405.0M400.6 48.6V57.4M397.5 49.9L403.7 56.1M397.5 56.1L403.7 49.9" fill="none" stroke="#0000ff" stroke-width="1.2"/>
<path d="M401.1 52.1H409.9M405.5 47.7V56.5M402.4 49.0L408.6 55.2M402.4 55.2L408.6 49.0" fill="none" stroke="#0000ff" stroke-width="1.2"/>
<path d="M406.0 52.5H414.8M410.4 48.1V56.9M407.3 49.4L413.5 55.7M407.3 55.7L413.5 49.4" fill="none" stroke="#0000ff" stroke-width="1.2"/>
<path d="M410.9 52.1H419.7M415.3 47.7V56.5M412.2 49.0L418.4 55.2M412.2 55.2L418.4 49.0" fill="none" stroke="#0000ff" stroke-width="1.2"/>
<path d="M415.9 52.5H424.7M420.3 48.1V56.9M417.1 49.4L423.4 55.7M417.1 55.7L423.4 49.4" fill="none" stroke="#0000ff" stroke-width="1.2"/>
<path d="M420.8 50.0H429.6M425.2 45.6V54.4M422.1 46.8L428.3 53.1M422.1 53.1L428.3 46.8" fill="none" stroke="#0000ff" stroke-width="1.2"/>
<path d="M425.7 49.5H434.5M430.1 45.1V53.9M427.0 46.4L433.2 52.6M427.0 52.6L433.2 46.4" fill="none" stroke="#0000ff" stroke-width="1.2"/>
<path d="M430.6 52.1H439.4M435.0 47.7V56.5M431.9 49.0L438.1 55.2M431.9 55.2L438.1 49.0" fill="none" stroke="#0000ff" stroke-width="1.2"/>
<path d="M435.5 58.2H444.3M439.9 53.8V62.6M436.8 55.0L443.0 61.3M436.8 61.3L443.0 55.0" fill="none" stroke="#0000ff" stroke-width="1.2"/>
<path d="M440.4 87.9H449.2M444.8 83.5V92.3M441.7 84.8L447.9 91.0M441.7 91.0L447.9 84.8" fill="none" stroke="#0000ff" stroke-width="1.2"/>
<path d="M445.4 115.1H454.2M449.8 110.7V119.5M446.6 112.0L452.9 118.2M446.6 118.2L452.9 112.0" fill="none" stroke="#0000ff" stroke-width="1.2"/>
<path d="M450.3 121.2H459.1M454.7 116.8V125.6M451.6 118.1L457.8 124.3M451.6 124.3L457.8 118.1" fill="none" stroke="#0000ff" stroke-width="1.2"/>
<path d="M455.2 128.1H464.0M459.6 123.7V132.5M456.5 125.0L462.7 131.2M456.5 131.2L462.7 125.0" fill="none" stroke="#0000ff" stroke-width="1.2"/>
<path d="M460.1 130.2H468.9M464.5 125.8V134.6M461.4 127.1L467.6 133.3M461.4 133.3L467.6 127.1" fill="none" stroke="#0000ff" stroke-width="1.2"/>
<path d="M465.0 129.4H473.8M469.4 125.0V133.8M466.3 126.3L472.5 132.5M466.3 132.5L472.5 126.3" fill="none" stroke="#0000ff" stroke-width="1.2"/>
<path d="M469.9 135.0H478.7M474.3 130.6V139.4M471.2 131.9L477.4 138.1M471.2 138.1L477.4 131.9" fill="none" stroke="#0000ff" stroke-width="1.2"/>
<path d="M474.9 132.8H483.7M479.3 128.4V137.2M476.1 129.7L482.4 135.9M476.1 135.9L482.4 129.7" fill="none" stroke="#0000ff" stroke-width="1.2"/>
<path d="M479.8 135.0H488.6M484.2 130.6V139.4M481.1 131.9L487.3 138.1M481.1 138.1L487.3 131.9" fill="none" stroke="#0000ff" stroke-width="1.2"/>
<path d="M484.7 135.0H493.5M489.1 130.6V139.4M486.0 131.9L492.2 138.1M486.0 138.1L492.2 131.9" fill="none" stroke="#0000ff" stroke-width="1.2"/>
<path d="M489.6 140.2H498.4M494.0 135.8V144.6M490.9 137.0L497.1 143.3M490.9 143.3L497.1 137.0" fill="none" stroke="#0000ff" stroke-width="1.2"/>
<path d="M494.5 140.2H503.3M498.9 135.8V144.6M495.8 137.0L502.0 143.3M495.8 143.3L502.0 137.0" fill="none" stroke="#0000ff" stroke-width="1.2"/>
<path d="M499.4 131.1H508.2M503.8 126.7V135.5M500.7 128.0L506.9 134.2M500.7 134.2L506.9 128.0" fill="none" stroke="#0000ff" stroke-width="1.2"/>
<path d="M504.4 131.1H513.2M508.8 126.7V135.5M505.6 128.0L511.9 134.2M505.6 134.2L511.9 128.0" fill="none" stroke="#0000ff" stroke-width="1.2"/>
<path d="M509.3 137.1H518.1M513.7 132.7V141.5M510.6 134.0L516.8 140.2M510.6 140.2L516.8 134.0" fill="none" stroke="#0000ff" stroke-width="1.2"/>
<path d="M514.2 135.0H523.0M518.6 130.6V139.4M515.5 131.9L521.7 138.1M515.5 138.1L521.7 131.9" fill="none" stroke="#0000ff" stroke-width="1.2"/>
<path d="M519.1 134.1H527.9M523.5 129.7V138.5M520.4 131.0L526.6 137.2M520.4 137.2L526.6 131.0" fill="none" stroke="#0000ff" stroke-width="1.2"/>
<path d="M524.0 135.8H532.8M528.4 131.4V140.2M525.3 132.7L531.5 138.9M525.3 138.9L531.5 132.7" fill="none" stroke="#0000ff" stroke-width="1.2"/>
<path d="M528.9 140.2H537.7M533.3 135.8V144.6M530.2 137.0L536.4 143.3M530.2 143.3L536.4 137.0" fill="none" stroke="#0000ff" stroke-width="1.2"/>
<path d="M533.9 138.9H542.6M538.2 134.5V143.3M535.1 135.7L541.4 142.0M535.1 142.0L541.4 135.7" fill="none" stroke="#0000ff" stroke-width="1.2"/>
<polyline points="51.5,403.4 56.4,362.4 61.3,360.5 66.3,360.2 71.2,360.1 76.1,360.1 81.0,360.6 85.9,360.7 90.8,360.6 95.8,320.1 100.7,317.7 105.6,317.7 110.5,317.4 115.4,317.2 120.3,317.3 125.3,317.5 130.2,317.4 135.1,317.3 140.0,317.8 144.9,242.4 149.8,233.8 154.8,232.7 159.7,232.4 164.6,232.6 169.5,232.6 174.4,233.0 179.3,233.4 184.3,232.6 189.2,233.2 194.1,232.5 199.0,232.3 203.9,233.1 208.8,233.1 213.8,232.4 218.7,232.6 223.6,233.4 228.5,233.4 233.4,233.4 238.3,232.4 243.3,162.6 248.2,154.0 253.1,152.3 258.0,154.0 262.9,152.3 267.8,151.9 272.8,152.7 277.7,153.5 282.6,153.0 287.5,154.1 292.4,154.4 297.3,151.9 302.3,152.7 307.2,153.0 312.1,152.0 317.0,153.3 321.9,152.1 326.8,152.3 331.8,153.8 336.7,153.7 341.6,81.9 346.5,75.0 351.4,72.0 356.3,71.5 361.3,72.8 366.2,73.7 371.1,73.3 376.0,74.1 380.9,73.3 385.8,73.7 390.8,72.8 395.7,74.1 400.6,75.8 405.5,78.4 410.4,78.4 415.3,76.3 420.3,74.1 425.2,73.3 430.1,74.1 435.0,75.0 439.9,75.0 444.8,147.5 449.8,155.7 454.7,156.6 459.6,156.6 464.5,157.0 469.4,156.6 474.3,160.4 479.3,157.4 484.2,157.4 489.1,157.4 494.0,160.4 498.9,160.9 503.8,157.4 508.8,157.4 513.7,157.4 518.6,157.8 523.5,158.3 528.4,158.3 533.3,158.7 538.2,159.1" fill="none" stroke="#77ac30" stroke-width="1.05" stroke-linejoin="round"/>
<path d="M51.5 398.0L56.3 406.2L46.7 406.2Z" fill="none" stroke="#77ac30" stroke-width="1.2"/>
<path d="M56.4 357.0L61.2 365.2L51.6 365.2Z" fill="none" stroke="#77ac30" stroke-width="1.2"/>
<path d="M61.3 355.1L66.1 363.3L56.5 363.3Z" fill="none" stroke="#77ac30" stroke-width="1.2"/>
<path d="M66.3 354.8L71.1 363.0L61.5 363.0Z" fill="none" stroke="#77ac30" stroke-width="1.2"/>
<path d="M71.2 354.7L76.0 362.9L66.4 362.9Z" fill="none" stroke="#77ac30" stroke-width="1.2"/>
<path d="M76.1 354.7L80.9 362.9L71.3 362.9Z" fill="none" stroke="#77ac30" stroke-width="1.2"/>
<path d="M81.0 355.2L85.8 363.4L76.2 363.4Z" fill="none" stroke="#77ac30" stroke-width="1.2"/>
<path d="M85.9 355.3L90.7 363.5L81.1 363.5Z" fill="none" stroke="#77ac30" stroke-width="1.2"/>
<path d="M90.8 355.2L95.6 363.4L86.0 363.4Z" fill="none" stroke="#77ac30" stroke-width="1.2"/>
<path d="M95.8 314.7L100.6 322.9L91.0 322.9Z" fill="none" stroke="#77ac30" stroke-width="1.2"/>
<path d="M100.7 312.3L105.5 320.5L95.9 320.5Z" fill="none" stroke="#77ac30" stroke-width="1.2"/>
<path d="M105.6 312.3L110.4 320.5L100.8 320.5Z" fill="none" stroke="#77ac30" stroke-width="1.2"/>
<path d="M110.5 312.0L115.3 320.2L105.7 320.2Z" fill="none" stroke="#77ac30" stroke-width="1.2"/>
<path d="M115.4 311.8L120.2 320.0L110.6 320.0Z" fill="none" stroke="#77ac30" stroke-width="1.2"/>
<path d="M120.3 311.9L125.1 320.1L115.5 320.1Z" fill="none" stroke="#77ac30" stroke-width="1.2"/>
<path d="M125.3 312.1L130.1 320.3L120.5 320.3Z" fill="none" stroke="#77ac30" stroke-width="1.2"/>
<path d="M130.2 312.0L135.0 320.2L125.4 320.2Z" fill="none" stroke="#77ac30" stroke-width="1.2"/>
<path d="M135.1 311.9L139.9 320.1L130.3 320.1Z" fill="none" stroke="#77ac30" stroke-width="1.2"/>
<path d="M140.0 312.4L144.8 320.6L135.2 320.6Z" fill="none" stroke="#77ac30" stroke-width="1.2"/>
<path d="M144.9 237.0L149.7 245.2L140.1 245.2Z" fill="none" stroke="#77ac30" stroke-width="1.2"/>
<path d="M149.8 228.4L154.6 236.6L145.0 236.6Z" fill="none" stroke="#77ac30" stroke-width="1.2"/>
<path d="M154.8 227.3L159.6 235.5L150.0 235.5Z" fill="none" stroke="#77ac30" stroke-width="1.2"/>
<path d="M159.7 227.0L164.5 235.2L154.9 235.2Z" fill="none" stroke="#77ac30" stroke-width="1.2"/>
<path d="M164.6 227.2L169.4 235.4L159.8 235.4Z" fill="none" stroke="#77ac30" stroke-width="1.2"/>
<path d="M169.5 227.2L174.3 235.4L164.7 235.4Z" fill="none" stroke="#77ac30" stroke-width="1.2"/>
<path d="M174.4 227.6L179.2 235.8L169.6 235.8Z" fill="none" stroke="#77ac30" stroke-width="1.2"/>
<path d="M179.3 228.0L184.1 236.2L174.5 236.2Z" fill="none" stroke="#77ac30" stroke-width="1.2"/>
<path d="M184.3 227.2L189.1 235.4L179.5 235.4Z" fill="none" stroke="#77ac30" stroke-width="1.2"/>
<path d="M189.2 227.8L194.0 236.0L184.4 236.0Z" fill="none" stroke="#77ac30" stroke-width="1.2"/>
<path d="M194.1 227.1L198.9 235.3L189.3 235.3Z" fill="none" stroke="#77ac30" stroke-width="1.2"/>
<path d="M199.0 226.9L203.8 235.1L194.2 235.1Z" fill="none" stroke="#77ac30" stroke-width="1.2"/>
<path d="M203.9 227.7L208.7 235.9L199.1 235.9Z" fill="none" stroke="#77ac30" stroke-width="1.2"/>
<path d="M208.8 227.7L213.6 235.9L204.0 235.9Z" fill="none" stroke="#77ac30" stroke-width="1.2"/>
<path d="M213.8 227.0L218.6 235.2L209.0 235.2Z" fill="none" stroke="#77ac30" stroke-width="1.2"/>
<path d="M218.7 227.2L223.5 235.4L213.9 235.4Z" fill="none" stroke="#77ac30" stroke-width="1.2"/>
<path d="M223.6 228.0L228.4 236.2L218.8 236.2Z" fill="none" stroke="#77ac30" stroke-width="1.2"/>
<path d="M228.5 228.0L233.3 236.2L223.7 236.2Z" fill="none" stroke="#77ac30" stroke-width="1.2"/>
<path d="M233.4 228.0L238.2 236.2L228.6 236.2Z" fill="none" stroke="#77ac30" stroke-width="1.2"/>
<path d="M238.3 227.0L243.1 235.2L233.5 235.2Z" fill="none" stroke="#77ac30" stroke-width="1.2"/>
<path d="M243.3 157.2L248.1 165.4L238.5 165.4Z" fill="none" stroke="#77ac30" stroke-width="1.2"/>
<path d="M248.2 148.6L253.0 156.8L243.4 156.8Z" fill="none" stroke="#77ac30" stroke-width="1.2"/>
<path d="M253.1 146.9L257.9 155.1L248.3 155.1Z" fill="none" stroke="#77ac30" stroke-width="1.2"/>
<path d="M258.0 148.6L262.8 156.8L253.2 156.8Z" fill="none" stroke="#77ac30" stroke-width="1.2"/>
<path d="M262.9 146.9L267.7 155.1L258.1 155.1Z" fill="none" stroke="#77ac30" stroke-width="1.2"/>
<path d="M267.8 146.5L272.6 154.7L263.0 154.7Z" fill="none" stroke="#77ac30" stroke-width="1.2"/>
<path d="M272.8 147.3L277.6 155.5L268.0 155.5Z" fill="none" stroke="#77ac30" stroke-width="1.2"/>
<path d="M277.7 148.1L282.5 156.3L272.9 156.3Z" fill="none" stroke="#77ac30" stroke-width="1.2"/>
<path d="M282.6 147.6L287.4 155.8L277.8 155.8Z" fill="none" stroke="#77ac30" stroke-width="1.2"/>
<path d="M287.5 148.7L292.3 156.9L282.7 156.9Z" fill="none" stroke="#77ac30" stroke-width="1.2"/>
<path d="M292.4 149.0L297.2 157.2L287.6 157.2Z" fill="none" stroke="#77ac30" stroke-width="1.2"/>
<path d="M297.3 146.5L302.1 154.7L292.5 154.7Z" fill="none" stroke="#77ac30" stroke-width="1.2"/>
<path d="M302.3 147.3L307.1 155.5L297.5 155.5Z" fill="none" stroke="#77ac30" stroke-width="1.2"/>
<path d="M307.2 147.6L312.0 155.8L302.4 155.8Z" fill="none" stroke="#77ac30" stroke-width="1.2"/>
<path d="M312.1 146.6L316.9 154.8L307.3 154.8Z" fill="none" stroke="#77ac30" stroke-width="1.2"/>
<path d="M317.0 147.9L321.8 156.1L312.2 156.1Z" fill="none" stroke="#77ac30" stroke-width="1.2"/>
<path d="M321.9 146.7L326.7 154.9L317.1 154.9Z" fill="none" stroke="#77ac30" stroke-width="1.2"/>
<path d="M326.8 146.9L331.6 155.1L322.0 155.1Z" fill="none" stroke="#77ac30" stroke-width="1.2"/>
<path d="M331.8 148.4L336.6 156.6L327.0 156.6Z" fill="none" stroke="#77ac30" stroke-width="1.2"/>
<path d="M336.7 148.3L341.5 156.5L331.9 156.5Z" fill="none" stroke="#77ac30" stroke-width="1.2"/>
<path d="M341.6 76.5L346.4 84.7L336.8 84.7Z" fill="none" stroke="#77ac30" stroke-width="1.2"/>
<path d="M346.5 69.6L351.3 77.8L341.7 77.8Z" fill="none" stroke="#77ac30" stroke-width="1.2"/>
<path d="M351.4 66.6L356.2 74.8L346.6 74.8Z" fill="none" stroke="#77ac30" stroke-width="1.2"/>
<path d="M356.3 66.1L361.1 74.3L351.5 74.3Z" fill="none" stroke="#77ac30" stroke-width="1.2"/>
<path d="M361.3 67.4L366.1 75.6L356.5 75.6Z" fill="none" stroke="#77ac30" stroke-width="1.2"/>
<path d="M366.2 68.3L371.0 76.5L361.4 76.5Z" fill="none" stroke="#77ac30" stroke-width="1.2"/>
<path d="M371.1 67.9L375.9 76.1L366.3 76.1Z" fill="none" stroke="#77ac30" stroke-width="1.2"/>
<path d="M376.0 68.7L380.8 76.9L371.2 76.9Z" fill="none" stroke="#77ac30" stroke-width="1.2"/>
<path d="M380.9 67.9L385.7 76.1L376.1 76.1Z" fill="none" stroke="#77ac30" stroke-width="1.2"/>
<path d="M385.8 68.3L390.6 76.5L381.0 76.5Z" fill="none" stroke="#77ac30" stroke-width="1.2"/>
<path d="M390.8 67.4L395.6 75.6L386.0 75.6Z" fill="none" stroke="#77ac30" stroke-width="1.2"/>
<path d="M395.7 68.7L400.5 76.9L390.9 76.9Z" fill="none" stroke="#77ac30" stroke-width="1.2"/>
<path d="M400.6 70.4L405.4 78.6L395.8 78.6Z" fill="none" stroke="#77ac30" stroke-width="1.2"/>
<path d="M405.5 73.0L410.3 81.2L400.7 81.2Z" fill="none" stroke="#77ac30" stroke-width="1.2"/>
<path d="M410.4 73.0L415.2 81.2L405.6 81.2Z" fill="none" stroke="#77ac30" stroke-width="1.2"/>
<path d="M415.3 70.9L420.1 79.1L410.5 79.1Z" fill="none" stroke="#77ac30" stroke-width="1.2"/>
<path d="M420.3 68.7L425.1 76.9L415.5 76.9Z" fill="none" stroke="#77ac30" stroke-width="1.2"/>
<path d="M425.2 67.9L430.0 76.1L420.4 76.1Z" fill="none" stroke="#77ac30" stroke-width="1.2"/>
<path d="M430.1 68.7L434.9 76.9L425.3 76.9Z" fill="none" stroke="#77ac30" stroke-width="1.2"/>
<path d="M435.0 69.6L439.8 77.8L430.2 77.8Z" fill="none" stroke="#77ac30" stroke-width="1.2"/>
<path d="M439.9 69.6L444.7 77.8L435.1 77.8Z" fill="none" stroke="#77ac30" stroke-width="1.2"/>
<path d="M444.8 142.1L449.6 150.3L440.0 150.3Z" fill="none" stroke="#77ac30" stroke-width="1.2"/>
<path d="M449.8 150.3L454.6 158.5L445.0 158.5Z" fill="none" stroke="#77ac30" stroke-width="1.2"/>
<path d="M454.7 151.2L459.5 159.4L449.9 159.4Z" fill="none" stroke="#77ac30" stroke-width="1.2"/>
<path d="M459.6 151.2L464.4 159.4L454.8 159.4Z" fill="none" stroke="#77ac30" stroke-width="1.2"/>
<path d="M464.5 151.6L469.3 159.8L459.7 159.8Z" fill="none" stroke="#77ac30" stroke-width="1.2"/>
<path d="M469.4 151.2L474.2 159.4L464.6 159.4Z" fill="none" stroke="#77ac30" stroke-width="1.2"/>
<path d="M474.3 155.0L479.1 163.2L469.5 163.2Z" fill="none" stroke="#77ac30" stroke-width="1.2"/>
<path d="M479.3 152.0L484.1 160.2L474.5 160.2Z" fill="none" stroke="#77ac30" stroke-width="1.2"/>
<path d="M484.2 152.0L489.0 160.2L479.4 160.2Z" fill="none" stroke="#77ac30" stroke-width="1.2"/>
<path d="M489.1 152.0L493.9 160.2L484.3 160.2Z" fill="none" stroke="#77ac30" stroke-width="1.2"/>
<path d="M494.0 155.0L498.8 163.2L489.2 163.2Z" fill="none" stroke="#77ac30" stroke-width="1.2"/>
<path d="M498.9 155.5L503.7 163.7L494.1 163.7Z" fill="none" stroke="#77ac30" stroke-width="1.2"/>
<path d="M503.8 152.0L508.6 160.2L499.0 160.2Z" fill="none" stroke="#77ac30" stroke-width="1.2"/>
<path d="M508.8 152.0L513.6 160.2L504.0 160.2Z" fill="none" stroke="#77ac30" stroke-width="1.2"/>
<path d="M513.7 152.0L518.5 160.2L508.9 160.2Z" fill="none" stroke="#77ac30" stroke-width="1.2"/>
<path d="M518.6 152.4L523.4 160.6L513.8 160.6Z" fill="none" stroke="#77ac30" stroke-width="1.2"/>
<path d="M523.5 152.9L528.3 161.1L518.7 161.1Z" fill="none" stroke="#77ac30" stroke-width="1.2"/>
<path d="M528.4 152.9L533.2 161.1L523.6 161.1Z" fill="none" stroke="#77ac30" stroke-width="1.2"/>
<path d="M533.3 153.3L538.1 161.5L528.5 161.5Z" fill="none" stroke="#77ac30" stroke-width="1.2"/>
<path d="M538.2 153.7L543.0 161.9L533.5 161.9Z" fill="none" stroke="#77ac30" stroke-width="1.2"/>
<polyline points="51.5,403.4 56.4,362.4 61.3,360.4 66.3,360.5 71.2,360.1 76.1,360.5 81.0,360.2 85.9,360.3 90.8,360.5 95.8,319.2 100.7,317.1 105.6,317.4 110.5,317.1 115.4,317.4 120.3,317.4 125.3,317.1 130.2,316.9 135.1,317.3 140.0,317.3 144.9,238.1 149.8,232.5 154.8,231.3 159.7,231.0 164.6,231.3 169.5,231.5 174.4,230.9 179.3,231.9 184.3,231.1 189.2,231.6 194.1,231.8 199.0,231.8 203.9,231.6 208.8,231.1 213.8,231.8 218.7,231.3 223.6,231.3 228.5,231.6 233.4,231.4 238.3,231.9 243.3,157.4 248.2,150.9 253.1,150.1 258.0,148.4 262.9,149.6 267.8,150.1 272.8,149.6 277.7,150.5 282.6,150.1 287.5,149.6 292.4,150.5 297.3,150.5 302.3,150.9 307.2,150.1 312.1,150.5 317.0,150.5 321.9,149.2 326.8,149.6 331.8,150.1 336.7,150.1 341.6,70.7 346.5,67.6 351.4,64.2 356.3,66.4 361.3,67.2 366.2,67.6 371.1,68.1 376.0,67.2 380.9,68.1 385.8,68.5 390.8,68.1 395.7,68.9 400.6,69.4 405.5,71.5 410.4,72.0 415.3,70.2 420.3,68.9 425.2,68.5 430.1,69.4 435.0,69.8 439.9,69.8 444.8,134.1 449.8,149.2 454.7,150.9 459.6,151.4 464.5,151.4 469.4,151.8 474.3,152.2 479.3,153.5 484.2,153.1 489.1,153.5 494.0,154.0 498.9,154.0 503.8,153.5 508.8,153.1 513.7,152.2 518.6,153.1 523.5,154.0 528.4,154.4 533.3,154.8 538.2,154.8" fill="none" stroke="#ff0000" stroke-width="1.05" stroke-linejoin="round"/>
<circle cx="51.5" cy="403.4" r="4.5" fill="none" stroke="#ff0000" stroke-width="1.2"/>
<circle cx="56.4" cy="362.4" r="4.5" fill="none" stroke="#ff0000" stroke-width="1.2"/>
<circle cx="61.3" cy="360.4" r="4.5" fill="none" stroke="#ff0000" stroke-width="1.2"/>
<circle cx="66.3" cy="360.5" r="4.5" fill="none" stroke="#ff0000" stroke-width="1.2"/>
<circle cx="71.2" cy="360.1" r="4.5" fill="none" stroke="#ff0000" stroke-width="1.2"/>
<circle cx="76.1" cy="360.5" r="4.5" fill="none" stroke="#ff0000" stroke-width="1.2"/>
<circle cx="81.0" cy="360.2" r="4.5" fill="none" stroke="#ff0000" stroke-width="1.2"/>
<circle cx="85.9" cy="360.3" r="4.5" fill="none" stroke="#ff0000" stroke-width="1.2"/>
<circle cx="90.8" cy="360.5" r="4.5" fill="none" stroke="#ff0000" stroke-width="1.2"/>
<circle cx="95.8" cy="319.2" r="4.5" fill="none" stroke="#ff0000" stroke-width="1.2"/>
<circle cx="100.7" cy="317.1" r="4.5" fill="none" stroke="#ff0000" stroke-width="1.2"/>
<circle cx="105.6" cy="317.4" r="4.5" fill="none" stroke="#ff0000" stroke-width="1.2"/>
<circle cx="110.5" cy="317.1" r="4.5" fill="none" stroke="#ff0000" stroke-width="1.2"/>
<circle cx="115.4" cy="317.4" r="4.5" fill="none" stroke="#ff0000" stroke-width="1.2"/>
<circle cx="120.3" cy="317.4" r="4.5" fill="none" stroke="#ff0000" stroke-width="1.2"/>
<circle cx="125.3" cy="317.1" r="4.5" fill="none" stroke="#ff0000" stroke-width="1.2"/>
<circle cx="130.2" cy="316.9" r="4.5" fill="none" stroke="#ff0000" stroke-width="1.2"/>
<circle cx="135.1" cy="317.3" r="4.5" fill="none" stroke="#ff0000" stroke-width="1.2"/>
<circle cx="140.0" cy="317.3" r="4.5" fill="none" stroke="#ff0000" stroke-width="1.2"/>
<circle cx="144.9" cy="238.1" r="4.5" fill="none" stroke="#ff0000" stroke-width="1.2"/>
<circle cx="149.8" cy="232.5" r="4.5" fill="none" stroke="#ff0000" stroke-width="1.2"/>
<circle cx="154.8" cy="231.3" r="4.5" fill="none" stroke="#ff0000" stroke-width="1.2"/>
<circle cx="159.7" cy="231.0" r="4.5" fill="none" stroke="#ff0000" stroke-width="1.2"/>
<circle cx="164.6" cy="231.3" r="4.5" fill="none" stroke="#ff0000" stroke-width="1.2"/>
<circle cx="169.5" cy="231.5" r="4.5" fill="none" stroke="#ff0000" stroke-width="1.2"/>
<circle cx="174.4" cy="230.9" r="4.5" fill="none" stroke="#ff0000" stroke-width="1.2"/>
<circle cx="179.3" cy="231.9" r="4.5" fill="none" stroke="#ff0000" stroke-width="1.2"/>
<circle cx="184.3" cy="231.1" r="4.5" fill="none" stroke="#ff0000" stroke-width="1.2"/>
<circle cx="189.2" cy="231.6" r="4.5" fill="none" stroke="#ff0000" stroke-width="1.2"/>
<circle cx="194.1" cy="231.8" r="4.5" fill="none" stroke="#ff0000" stroke-width="1.2"/>
<circle cx="199.0" cy="231.8" r="4.5" fill="none" stroke="#ff0000" stroke-width="1.2"/>
<circle cx="203.9" cy="231.6" r="4.5" fill="none" stroke="#ff0000" stroke-width="1.2"/>
<circle cx="208.8" cy="231.1" r="4.5" fill="none" stroke="#ff0000" stroke-width="1.2"/>
<circle cx="213.8" cy="231.8" r="4.5" fill="none" stroke="#ff0000" stroke-width="1.2"/>
<circle cx="218.7" cy="231.3" r="4.5" fill="none" stroke="#ff0000" stroke-width="1.2"/>
<circle cx="223.6" cy="231.3" r="4.5" fill="none" stroke="#ff0000" stroke-width="1.2"/>
<circle cx="228.5" cy="231.6" r="4.5" fill="none" stroke="#ff0000" stroke-width="1.2"/>
<circle cx="233.4" cy="231.4" r="4.5" fill="none" stroke="#ff0000" stroke-width="1.2"/>
<circle cx="238.3" cy="231.9" r="4.5" fill="none" stroke="#ff0000" stroke-width="1.2"/>
<circle cx="243.3" cy="157.4" r="4.5" fill="none" stroke="#ff0000" stroke-width="1.2"/>
<circle cx="248.2" cy="150.9" r="4.5" fill="none" stroke="#ff0000" stroke-width="1.2"/>
<circle cx="253.1" cy="150.1" r="4.5" fill="none" stroke="#ff0000" stroke-width="1.2"/>
<circle cx="258.0" cy="148.4" r="4.5" fill="none" stroke="#ff0000" stroke-width="1.2"/>
<circle cx="262.9" cy="149.6" r="4.5" fill="none" stroke="#ff0000" stroke-width="1.2"/>
<circle cx="267.8" cy="150.1" r="4.5" fill="none" stroke="#ff0000" stroke-width="1.2"/>
<circle cx="272.8" cy="149.6" r="4.5" fill="none" stroke="#ff0000" stroke-width="1.2"/>
<circle cx="277.7" cy="150.5" r="4.5" fill="none" stroke="#ff0000" stroke-width="1.2"/>
<circle cx="282.6" cy="150.1" r="4.5" fill="none" stroke="#ff0000" stroke-width="1.2"/>
<circle cx="287.5" cy="149.6" r="4.5" fill="none" stroke="#ff0000" stroke-width="1.2"/>
<circle cx="292.4" cy="150.5" r="4.5" fill="none" stroke="#ff0000" stroke-width="1.2"/>
<circle cx="297.3" cy="150.5" r="4.5" fill="none" stroke="#ff0000" stroke-width="1.2"/>
<circle cx="302.3" cy="150.9" r="4.5" fill="none" stroke="#ff0000" stroke-width="1.2"/>
<circle cx="307.2" cy="150.1" r="4.5" fill="none" stroke="#ff0000" stroke-width="1.2"/>
<circle cx="312.1" cy="150.5" r="4.5" fill="none" stroke="#ff0000" stroke-width="1.2"/>
<circle cx="317.0" cy="150.5" r="4.5" fill="none" stroke="#ff0000" stroke-width="1.2"/>
<circle cx="321.9" cy="149.2" r="4.5" fill="none" stroke="#ff0000" stroke-width="1.2"/>
<circle cx="326.8" cy="149.6" r="4.5" fill="none" stroke="#ff0000" stroke-width="1.2"/>
<circle cx="331.8" cy="150.1" r="4.5" fill="none" stroke="#ff0000" stroke-width="1.2"/>
<circle cx="336.7" cy="150.1" r="4.5" fill="none" stroke="#ff0000" stroke-width="1.2"/>
<circle cx="341.6" cy="70.7" r="4.5" fill="none" stroke="#ff0000" stroke-width="1.2"/>
<circle cx="346.5" cy="67.6" r="4.5" fill="none" stroke="#ff0000" stroke-width="1.2"/>
<circle cx="351.4" cy="64.2" r="4.5" fill="none" stroke="#ff0000" stroke-width="1.2"/>
<circle cx="356.3" cy="66.4" r="4.5" fill="none" stroke="#ff0000" stroke-width="1.2"/>
<circle cx="361.3" cy="67.2" r="4.5" fill="none" stroke="#ff0000" stroke-width="1.2"/>
<circle cx="366.2" cy="67.6" r="4.5" fill="none" stroke="#ff0000" stroke-width="1.2"/>
<circle cx="371.1" cy="68.1" r="4.5" fill="none" stroke="#ff0000" stroke-width="1.2"/>
<circle cx="376.0" cy="67.2" r="4.5" fill="none" stroke="#ff0000" stroke-width="1.2"/>
<circle cx="380.9" cy="68.1" r="4.5" fill="none" stroke="#ff0000" stroke-width="1.2"/>
<circle cx="385.8" cy="68.5" r="4.5" fill="none" stroke="#ff0000" stroke-width="1.2"/>
<circle cx="390.8" cy="68.1" r="4.5" fill="none" stroke="#ff0000" stroke-width="1.2"/>
<circle cx="395.7" cy="68.9" r="4.5" fill="none" stroke="#ff0000" stroke-width="1.2"/>
<circle cx="400.6" cy="69.4" r="4.5" fill="none" stroke="#ff0000" stroke-width="1.2"/>
<circle cx="405.5" cy="71.5" r="4.5" fill="none" stroke="#ff0000" stroke-width="1.2"/>
<circle cx="410.4" cy="72.0" r="4.5" fill="none" stroke="#ff0000" stroke-width="1.2"/>
<circle cx="415.3" cy="70.2" r="4.5" fill="none" stroke="#ff0000" stroke-width="1.2"/>
<circle cx="420.3" cy="68.9" r="4.5" fill="none" stroke="#ff0000" stroke-width="1.2"/>
<circle cx="425.2" cy="68.5" r="4.5" fill="none" stroke="#ff0000" stroke-width="1.2"/>
<circle cx="430.1" cy="69.4" r="4.5" fill="none" stroke="#ff0000" stroke-width="1.2"/>
<circle cx="435.0" cy="69.8" r="4.5" fill="none" stroke="#ff0000" stroke-width="1.2"/>
<circle cx="439.9" cy="69.8" r="4.5" fill="none" stroke="#ff0000" stroke-width="1.2"/>
<circle cx="444.8" cy="134.1" r="4.5" fill="none" stroke="#ff0000" stroke-width="1.2"/>
<circle cx="449.8" cy="149.2" r="4.5" fill="none" stroke="#ff0000" stroke-width="1.2"/>
<circle cx="454.7" cy="150.9" r="4.5" fill="none" stroke="#ff0000" stroke-width="1.2"/>
<circle cx="459.6" cy="151.4" r="4.5" fill="none" stroke="#ff0000" stroke-width="1.2"/>
<circle cx="464.5" cy="151.4" r="4.5" fill="none" stroke="#ff0000" stroke-width="1.2"/>
<circle cx="469.4" cy="151.8" r="4.5" fill="none" stroke="#ff0000" stroke-width="1.2"/>
<circle cx="474.3" cy="152.2" r="4.5" fill="none" stroke="#ff0000" stroke-width="1.2"/>
<circle cx="479.3" cy="153.5" r="4.5" fill="none" stroke="#ff0000" stroke-width="1.2"/>
<circle cx="484.2" cy="153.1" r="4.5" fill="none" stroke="#ff0000" stroke-width="1.2"/>
<circle cx="489.1" cy="153.5" r="4.5" fill="none" stroke="#ff0000" stroke-width="1.2"/>
<circle cx="494.0" cy="154.0" r="4.5" fill="none" stroke="#ff0000" stroke-width="1.2"/>
<circle cx="498.9" cy="154.0" r="4.5" fill="none" stroke="#ff0000" stroke-width="1.2"/>
<circle cx="503.8" cy="153.5" r="4.5" fill="none" stroke="#ff0000" stroke-width="1.2"/>
<circle cx="508.8" cy="153.1" r="4.5" fill="none" stroke="#ff0000" stroke-width="1.2"/>
<circle cx="513.7" cy="152.2" r="4.5" fill="none" stroke="#ff0000" stroke-width="1.2"/>
<circle cx="518.6" cy="153.1" r="4.5" fill="none" stroke="#ff0000" stroke-width="1.2"/>
<circle cx="523.5" cy="154.0" r="4.5" fill="none" stroke="#ff0000" stroke-width="1.2"/>
<circle cx="528.4" cy="154.4" r="4.5" fill="none" stroke="#ff0000" stroke-width="1.2"/>
<circle cx="533.3" cy="154.8" r="4.5" fill="none" stroke="#ff0000" stroke-width="1.2"/>
<circle cx="538.2" cy="154.8" r="4.5" fill="none" stroke="#ff0000" stroke-width="1.2"/>
</g>
<rect x="46.6" y="15.0" width="491.65" height="388.4" fill="none" stroke="#262626" stroke-width="1.25"/>
<path d="M95.8 403.4v-5M95.8 15.0v5M144.9 403.4v-5M144.9 15.0v5M194.1 403.4v-5M194.1 15.0v5M243.3 403.4v-5M243.3 15.0v5M292.4 403.4v-5M292.4 15.0v5M341.6 403.4v-5M341.6 15.0v5M390.8 403.4v-5M390.8 15.0v5M439.9 403.4v-5M439.9 15.0v5M489.1 403.4v-5M489.1 15.0v5M46.6 360.2h5M538.25 360.2h-5M46.6 317.1h5M538.25 317.1h-5M46.6 273.9h5M538.25 273.9h-5M46.6 230.8h5M538.25 230.8h-5M46.6 187.6h5M538.25 187.6h-5M46.6 144.5h5M538.25 144.5h-5M46.6 101.3h5M538.25 101.3h-5M46.6 58.2h5M538.25 58.2h-5" stroke="#262626" stroke-width="1.2" fill="none"/>
<text class="tk" x="45.0" y="420.4" text-anchor="middle">0</text>
<text class="tk" x="93.9" y="420.4" text-anchor="middle">10</text>
<text class="tk" x="142.6" y="420.4" text-anchor="middle">20</text>
<text class="tk" x="191.8" y="420.4" text-anchor="middle">30</text>
<text class="tk" x="241.0" y="420.4" text-anchor="middle">40</text>
<text class="tk" x="290.1" y="420.4" text-anchor="middle">50</text>
<text class="tk" x="339.3" y="420.4" text-anchor="middle">60</text>
<text class="tk" x="388.5" y="420.4" text-anchor="middle">70</text>
<text class="tk" x="437.6" y="420.4" text-anchor="middle">80</text>
<text class="tk" x="486.8" y="420.4" text-anchor="middle">90</text>
<text class="tk" x="534.7" y="420.4" text-anchor="middle">100</text>
<text class="tk" x="38.0" y="404.4" text-anchor="end">0</text>
<text class="tk" x="38.0" y="361.2" text-anchor="end">1</text>
<text class="tk" x="38.0" y="318.1" text-anchor="end">2</text>
<text class="tk" x="38.0" y="274.9" text-anchor="end">3</text>
<text class="tk" x="38.0" y="231.8" text-anchor="end">4</text>
<text class="tk" x="38.0" y="188.6" text-anchor="end">5</text>
<text class="tk" x="38.0" y="145.5" text-anchor="end">6</text>
<text class="tk" x="38.0" y="102.3" text-anchor="end">7</text>
<text class="tk" x="38.0" y="59.2" text-anchor="end">8</text>
<text class="tk" x="38.0" y="16.0" text-anchor="end">9</text>
<text class="lb" x="284.7" y="440.6" text-anchor="middle" style="font-size:12.7px">Time (s)</text>
<text class="lb" transform="translate(16,225.4) rotate(-90)" text-anchor="middle">Number of targets</text>
<rect x="381.9" y="265.3" width="148.60000000000002" height="115.19999999999999" fill="#ffffff" stroke="#262626" stroke-width="1.1"/>
<path d="M386.2 276.1H431.8" stroke="#000000" stroke-width="1.2" fill="none"/>
<text class="lg" x="435.6" y="277.2">Truth</text>
<path d="M386.2 294.7H431.8" stroke="#ff00ff" stroke-width="1.2" fill="none"/>
<path d="M409.0 288.9L413.2 294.7L409.0 300.5L404.8 294.7Z" fill="none" stroke="#ff00ff" stroke-width="1.2"/>
<text class="lg" x="435.6" y="295.9">CPHD</text>
<path d="M386.2 313.3H431.8" stroke="#00ff00" stroke-width="1.2" fill="none"/>
<rect x="405.9" y="310.2" width="6.3" height="6.3" fill="none" stroke="#00ff00" stroke-width="1.2"/>
<text class="lg" x="435.6" y="314.5">TCPHD</text>
<path d="M386.2 332.0H431.8" stroke="#0000ff" stroke-width="1.2" fill="none"/>
<path d="M404.6 332.0H413.4M409.0 327.6V336.4M405.9 328.9L412.1 335.1M405.9 335.1L412.1 328.9" fill="none" stroke="#0000ff" stroke-width="1.2"/>
<text class="lg" x="435.6" y="333.2">ST-TCPHD</text>
<path d="M386.2 350.6H431.8" stroke="#77ac30" stroke-width="1.2" fill="none"/>
<path d="M409.0 345.2L413.8 353.4L404.2 353.4Z" fill="none" stroke="#77ac30" stroke-width="1.2"/>
<text class="lg" x="435.6" y="351.8">GSTM-CPHD</text>
<path d="M386.2 369.2H431.8" stroke="#ff0000" stroke-width="1.2" fill="none"/>
<circle cx="409.0" cy="369.2" r="4.5" fill="none" stroke="#ff0000" stroke-width="1.2"/>
<text class="lg" x="435.6" y="370.4">GSTM-TCPHD</text>
</svg></body></html>
